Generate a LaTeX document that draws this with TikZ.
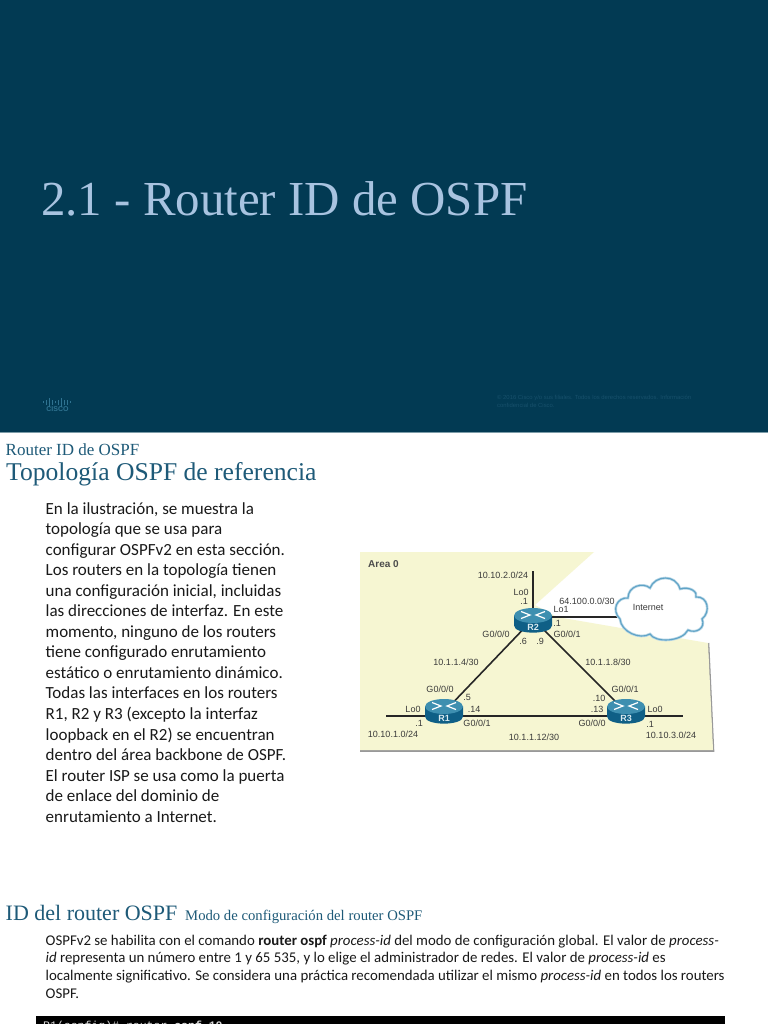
\documentclass[tikz,border=0pt]{standalone}
\usepackage{fontspec}
\setmainfont{Carlito}
\newfontfamily\serifx{Liberation Serif}
\newfontfamily\arialx{Liberation Sans}
\newfontfamily\monox{Liberation Mono}
\definecolor{navy}{HTML}{023A53}
\definecolor{ruleblue}{HTML}{7C9CA8}
\definecolor{titleblue}{HTML}{A8C3E0}
\definecolor{headteal}{HTML}{1E5A78}
\definecolor{areafill}{HTML}{F6F6D2}
\definecolor{dimtext}{HTML}{17506B}
\definecolor{logoblue}{HTML}{2F7391}
\definecolor{routertop}{HTML}{3E8FB0}
\definecolor{routerbody}{HTML}{0F5F86}
\definecolor{cloudline}{HTML}{5FA3C6}
\definecolor{cloudsoft}{HTML}{B5D5E6}
\definecolor{labelgray}{HTML}{3A3A3A}
\tikzset{
  x=1pt,y=-1pt,
  bodyline/.style={anchor=base west,inner sep=0pt,font=\fontsize{17}{20}\selectfont,text=black!90},
  parline/.style={anchor=base west,inner sep=0pt,font=\fontsize{14.85}{17}\selectfont,text=black!90},
  lab/.style={inner sep=0pt,font=\arialx\fontsize{9}{10}\selectfont,text=labelgray},
  link/.style={draw=black!85,line width=1.6pt},
  routerlabel/.style={inner sep=0pt,font=\arialx\bfseries\fontsize{9}{10}\selectfont,text=white!80!routertop},
}
\newcommand{\routerat}[3]{%
  \begin{scope}[shift={(#1,#2)}]
    \fill[routerbody] (-19,-5) -- (-19,5) .. controls (-19,14.5) and (19,14.5) .. (19,5) -- (19,-5) -- cycle;
    \fill[routertop] (0,-5) ellipse[x radius=19,y radius=7.5];
    \draw[white,line width=1.2pt] (-12,-9) -- (-3,-5.5) -- (-12,-2) (12,-9) -- (3,-5.5) -- (12,-2);
    \node[routerlabel] (#3) at (0,7) {#3};
  \end{scope}}
\begin{document}
\begin{tikzpicture}
\useasboundingbox (0,0) rectangle (768,1024);
\fill[white] (0,0) rectangle (768,1024);
\fill[navy] (0,0) rectangle (768,432);
\fill[ruleblue] (0,432) rectangle (768,433);
\node[anchor=base west,inner sep=0pt,text=titleblue,font=\serifx\fontsize{48.9}{52}\selectfont] (title) at (41,215) {2.1 - Router ID de OSPF};
% logo
\foreach \xx/\hh in {43/1.2,46/2.5,49/4.5,52/2.5,55/1.2,58/2.5,61/4.5,64/2.5,67/2.5,70/1.2}
  \fill[logoblue] (\xx,402-\hh) rectangle (\xx+1.4,402+\hh);
\node[inner sep=0pt,text=logoblue,font=\arialx\bfseries\fontsize{7}{8}\selectfont] (logo) at (57.5,409.5) {CISCO};
\node[anchor=base west,inner sep=0pt,text=dimtext,font=\arialx\fontsize{5.9}{7}\selectfont] (copya) at (497,399) {© 2016 Cisco y/o sus filiales. Todos los derechos reservados. Información};
\node[anchor=base west,inner sep=0pt,text=dimtext,font=\arialx\fontsize{5.9}{7}\selectfont] (copyb) at (497,407.5) {confidencial de Cisco.};
% headings
\node[anchor=base west,inner sep=0pt,text=headteal,font=\serifx\fontsize{17}{20}\selectfont] (h1) at (5.5,455) {Router ID de OSPF};
\node[anchor=base west,inner sep=0pt,text=headteal,font=\serifx\fontsize{25.6}{28}\selectfont] (h2) at (6,480.5) {Topología OSPF de referencia};
% body
\foreach \i/\t in {0/{En la ilustración, se muestra la},
  1/{topología que se usa para},
  2/{configurar OSPFv2 en esta sección.},
  3/{Los routers en la topología tienen},
  4/{una configuración inicial, incluidas},
  5/{las direcciones de interfaz. En este},
  6/{momento, ninguno de los routers},
  7/{tiene configurado enrutamiento},
  8/{estático o enrutamiento dinámico.},
  9/{Todas las interfaces en los routers},
  10/{R1, R2 y R3 (excepto la interfaz},
  11/{loopback en el R2) se encuentran},
  12/{dentro del área backbone de OSPF.},
  13/{El router ISP se usa como la puerta},
  14/{de enlace del dominio de},
  15/{enrutamiento a Internet.}}{
  \node[bodyline] (b\i) at (45.5,514+20.55*\i) {\t};
}
% area
\draw[black!40,line width=1.6pt] (360,751) -- (713.5,751) -- (708.5,643);
\fill[areafill] (360,552) -- (594,552) -- (535,605) -- (557,617) -- (708,643) -- (713,750) -- (360,750) -- cycle;
\node[anchor=west,inner sep=0pt,font=\arialx\bfseries\fontsize{10}{11}\selectfont,text=black!70] (area) at (368,564) {Area 0};
% coordinates
\coordinate (r1c) at (444,712);
\coordinate (r2c) at (533,619);
\coordinate (r3c) at (626,712);
\coordinate (loa) at (386,716);
\coordinate (lob) at (533,571);
\coordinate (loc) at (683,716);
\coordinate (lod) at (620,617);
\draw[link] (r2c) -- (r1c);
\draw[link] (r2c) -- (r3c);
\draw[link] (loa) -- (loc);
\draw[link] (lob) -- (r2c);
\draw[link] (r2c |- lod) -- (lod);
% cloud
\def\cloudpath{(620,619) .. controls (611,610) and (617,597) .. (628,598)
 .. controls (628,586) and (643,582) .. (650,588)
 .. controls (655,575) and (676,574) .. (680,589)
 .. controls (690,586) and (698,592) .. (696,597)
 .. controls (708,596) and (711,612) .. (702,619)
 .. controls (706,628) and (696,634) .. (688,630)
 .. controls (682,642) and (655,643) .. (650,634)
 .. controls (640,640) and (621,632) .. (620,619) -- cycle}
\fill[white] \cloudpath;
\draw[cloudsoft,line width=2.6pt] \cloudpath;
\draw[cloudline,line width=1.1pt] \cloudpath;
\node[lab] (inet) at (648,607) {Internet};
\routerat{533}{620.5}{R2}
\routerat{444}{711.5}{R1}
\routerat{626}{711.5}{R3}
% labels
\foreach \n/\x/\y/\t in {
 l1/503/575/{10.10.2.0/24},
 l2/521/592/{Lo0},
 l3/524/601/{.1},
 l4/587/601/{64.100.0.0/30},
 l5/561/609/{Lo1},
 l6/557/623/{.1},
 l7/496/634/{G0/0/0},
 l8/567/634/{G0/0/1},
 l9/523/641/{.6},
 l10/540/641/{.9},
 l11/456/662/{10.1.1.4/30},
 l12/608/662/{10.1.1.8/30},
 l13/440/689/{G0/0/0},
 l14/467/697/{.5},
 l15/625/689/{G0/0/1},
 l16/599/698/{.10},
 l17/597/709/{.13},
 l18/474/709/{.14},
 l19/413/709/{Lo0},
 l20/419/723/{.1},
 l21/477/723/{G0/0/1},
 l22/592/723/{G0/0/0},
 l23/655/709/{Lo0},
 l24/650/724/{.1},
 l25/393/734/{10.10.1.0/24},
 l26/534/737/{10.1.1.12/30},
 l27/671/735/{10.10.3.0/24}}{
 \node[lab] (\n) at (\x,\y) {\t};
}
% second section
\node[anchor=base west,inner sep=0pt,text=headteal,font=\serifx\fontsize{22}{24}\selectfont] (h3) at (5.5,920) {ID del router OSPF};
\node[anchor=base west,inner sep=0pt,text=headteal,font=\serifx\fontsize{14.7}{17}\selectfont] (h4) at (185,920) {Modo de configuración del router OSPF};
\node[parline] (p1) at (45.5,945) {OSPFv2 se habilita con el comando \textbf{router ospf} \textit{process-id} del modo de configuración global. El valor de \textit{process-}};
\node[parline] (p2) at (45.5,962.7) {\textit{id} representa un número entre 1 y 65 535, y lo elige el administrador de redes. El valor de \textit{process-id} es};
\node[parline] (p3) at (45.5,980.5) {localmente significativo. Se considera una práctica recomendada utilizar el mismo \textit{process-id} en todos los routers};
\node[parline] (p4) at (45.5,998.5) {OSPF.};
% console
\fill[black] (36,1016) rectangle (725,1024);
\begin{scope}
\clip (36,1016) rectangle (725,1024);
\node[anchor=base west,inner sep=0pt,text=white!85!black,font=\monox\fontsize{11.5}{13}\selectfont] (cons) at (43,1029) {R1(config)\# router \textbf{ospf 10}};
\end{scope}
\end{tikzpicture}
\end{document}
